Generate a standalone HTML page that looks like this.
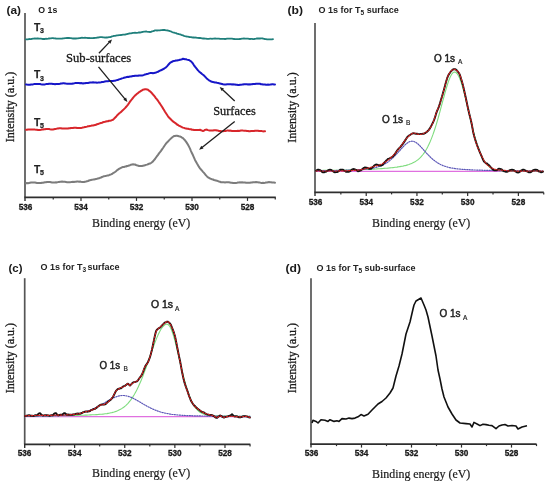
<!DOCTYPE html>
<html><head><meta charset="utf-8"><style>
html,body{margin:0;padding:0;background:#fff;}
svg{display:block;will-change:transform;}
</style></head><body>
<svg width="550" height="485" viewBox="0 0 550 485">
<rect width="550" height="485" fill="#fff"/>
<line x1="25.0" y1="13" x2="25.0" y2="197.4" stroke="#555" stroke-width="1.7"/>
<line x1="25.0" y1="197.4" x2="25.0" y2="200.9" stroke="#2e2e2e" stroke-width="1.4"/>
<line x1="24.3" y1="197.4" x2="275.8" y2="197.4" stroke="#2e2e2e" stroke-width="1.6"/>
<line x1="81.00" y1="197.4" x2="81.00" y2="200.9" stroke="#2e2e2e" stroke-width="1.2"/>
<line x1="136.50" y1="197.4" x2="136.50" y2="200.9" stroke="#2e2e2e" stroke-width="1.2"/>
<line x1="192.00" y1="197.4" x2="192.00" y2="200.9" stroke="#2e2e2e" stroke-width="1.2"/>
<line x1="247.50" y1="197.4" x2="247.50" y2="200.9" stroke="#2e2e2e" stroke-width="1.2"/>
<line x1="53.25" y1="197.4" x2="53.25" y2="199.4" stroke="#2e2e2e" stroke-width="1.2"/>
<line x1="108.75" y1="197.4" x2="108.75" y2="199.4" stroke="#2e2e2e" stroke-width="1.2"/>
<line x1="164.25" y1="197.4" x2="164.25" y2="199.4" stroke="#2e2e2e" stroke-width="1.2"/>
<line x1="219.75" y1="197.4" x2="219.75" y2="199.4" stroke="#2e2e2e" stroke-width="1.2"/>
<line x1="275.25" y1="197.4" x2="275.25" y2="199.4" stroke="#2e2e2e" stroke-width="1.2"/>
<text x="25.50" y="209.8" font-family='"Liberation Sans", sans-serif' font-weight="bold" font-size="8.2" text-anchor="middle" fill="#1a1a1a" stroke="#1a1a1a" stroke-width="0.3">536</text>
<text x="81.00" y="209.8" font-family='"Liberation Sans", sans-serif' font-weight="bold" font-size="8.2" text-anchor="middle" fill="#1a1a1a" stroke="#1a1a1a" stroke-width="0.3">534</text>
<text x="136.50" y="209.8" font-family='"Liberation Sans", sans-serif' font-weight="bold" font-size="8.2" text-anchor="middle" fill="#1a1a1a" stroke="#1a1a1a" stroke-width="0.3">532</text>
<text x="192.00" y="209.8" font-family='"Liberation Sans", sans-serif' font-weight="bold" font-size="8.2" text-anchor="middle" fill="#1a1a1a" stroke="#1a1a1a" stroke-width="0.3">530</text>
<text x="247.50" y="209.8" font-family='"Liberation Sans", sans-serif' font-weight="bold" font-size="8.2" text-anchor="middle" fill="#1a1a1a" stroke="#1a1a1a" stroke-width="0.3">528</text>
<text x="6.5" y="13.6" font-family='"Liberation Sans", sans-serif' font-weight="bold" font-size="11" fill="#1a1a1a" text-anchor="start" textLength="14.5" lengthAdjust="spacingAndGlyphs" >(a)</text>
<text x="38.3" y="12.6" font-family='"Liberation Sans", sans-serif' font-weight="bold" font-size="9" fill="#1a1a1a" text-anchor="start" textLength="19" lengthAdjust="spacingAndGlyphs" >O 1s</text>
<polyline points="26.0,39.4 27.0,39.3 28.0,39.3 29.0,39.0 30.0,39.1 31.0,39.0 32.0,38.8 33.0,38.6 34.0,38.7 35.0,38.4 36.0,38.6 37.0,38.5 38.0,38.5 39.0,38.6 40.0,38.7 41.0,38.7 42.0,38.8 43.0,39.0 44.0,39.0 45.0,39.0 46.0,38.7 47.0,38.8 48.0,38.7 49.0,38.5 50.0,38.3 51.0,38.3 52.0,38.2 53.0,38.1 54.0,38.4 55.0,38.3 56.0,38.5 57.0,38.6 58.0,38.7 59.0,38.7 60.0,38.7 61.0,38.6 62.0,38.7 63.0,38.4 64.0,38.3 65.0,38.2 66.0,38.2 67.0,38.0 68.0,38.0 69.0,38.0 70.0,38.2 71.0,38.2 72.0,38.4 73.0,38.5 74.0,38.5 75.0,38.4 76.0,38.5 77.0,38.4 78.0,38.3 79.0,38.2 80.0,38.1 81.0,37.8 82.0,37.7 83.0,37.8 84.0,37.8 85.0,37.7 86.0,37.9 87.0,37.8 88.0,38.1 89.0,38.0 90.0,38.1 91.0,38.1 92.0,38.1 93.0,38.2 94.0,38.0 95.0,37.8 96.0,37.8 97.0,37.6 98.0,37.5 99.0,37.4 100.0,37.2 101.0,37.2 102.0,37.2 103.0,37.4 104.0,37.3 105.0,37.6 106.0,37.5 107.0,37.5 108.0,37.4 109.0,37.2 110.0,37.2 111.0,36.8 112.0,36.4 113.0,36.2 114.0,35.9 115.0,35.8 116.0,35.6 117.0,35.4 118.0,35.3 119.0,35.2 120.0,35.1 121.0,35.0 122.0,34.9 123.0,34.7 124.0,34.6 125.0,34.5 126.0,34.3 127.0,34.0 128.0,33.9 129.0,33.5 130.0,33.4 131.0,33.3 132.0,33.1 133.0,32.9 134.0,32.8 135.0,32.7 136.0,32.9 137.0,32.8 138.0,32.7 139.0,32.5 140.0,32.5 141.0,32.4 142.0,32.0 143.0,31.8 144.0,31.7 145.0,31.6 146.0,31.5 147.0,31.7 148.0,31.8 149.0,31.8 150.0,32.0 151.0,31.8 152.0,31.4 153.0,31.2 154.0,30.8 155.0,30.4 156.0,30.3 157.0,30.5 158.0,30.3 159.0,30.4 160.0,30.3 161.0,30.2 162.0,30.2 163.0,30.0 164.0,30.0 165.0,30.0 166.0,30.3 167.0,30.3 168.0,30.5 169.0,30.8 170.0,31.2 171.0,31.4 172.0,32.0 173.0,32.4 174.0,32.6 175.0,32.9 176.0,33.1 177.0,33.6 178.0,33.8 179.0,34.2 180.0,34.4 181.0,34.7 182.0,35.2 183.0,35.4 184.0,35.8 185.0,36.1 186.0,36.3 187.0,36.6 188.0,36.7 189.0,37.0 190.0,37.2 191.0,37.1 192.0,37.4 193.0,37.5 194.0,37.5 195.0,37.6 196.0,37.5 197.0,37.8 198.0,37.9 199.0,38.0 200.0,38.0 201.0,38.2 202.0,38.4 203.0,38.5 204.0,38.5 205.0,38.7 206.0,38.6 207.0,38.8 208.0,38.8 209.0,38.8 210.0,38.7 211.0,38.7 212.0,38.8 213.0,38.7 214.0,38.6 215.0,38.5 216.0,38.7 217.0,38.6 218.0,38.6 219.0,38.6 220.0,38.8 221.0,38.9 222.0,38.8 223.0,38.9 224.0,38.9 225.0,39.0 226.0,38.8 227.0,38.6 228.0,38.7 229.0,38.6 230.0,38.7 231.0,38.7 232.0,38.7 233.0,38.9 234.0,39.0 235.0,39.2 236.0,39.1 237.0,39.1 238.0,39.2 239.0,39.2 240.0,39.0 241.0,38.9 242.0,38.7 243.0,38.7 244.0,38.5 245.0,38.6 246.0,38.6 247.0,38.6 248.0,38.7 249.0,38.9 250.0,39.0 251.0,38.9 252.0,38.9 253.0,39.1 254.0,39.0 255.0,38.8 256.0,38.7 257.0,38.5 258.0,38.5 259.0,38.5 260.0,38.5 261.0,38.4 262.0,38.4 263.0,38.5 264.0,38.8 265.0,39.0 266.0,39.1 267.0,39.3 268.0,39.3 269.0,39.3 270.0,39.3 271.0,39.4 272.0,39.3 273.0,39.1" fill="none" stroke="#1f7f7b" stroke-width="1.8" stroke-linejoin="round" stroke-linecap="round" />
<polyline points="26.0,84.4 27.0,84.6 28.0,84.7 29.0,84.7 30.0,84.7 31.0,84.5 32.0,84.5 33.0,84.4 34.0,84.1 35.0,83.9 36.0,84.0 37.0,83.9 38.0,84.0 39.0,84.1 40.0,84.1 41.0,84.3 42.0,84.4 43.0,84.5 44.0,84.5 45.0,84.4 46.0,84.1 47.0,84.0 48.0,83.9 49.0,83.7 50.0,83.7 51.0,83.7 52.0,83.8 53.0,84.1 54.0,84.1 55.0,84.2 56.0,84.0 57.0,84.1 58.0,84.0 59.0,83.9 60.0,83.8 61.0,83.5 62.0,83.4 63.0,83.3 64.0,83.3 65.0,83.4 66.0,83.6 67.0,83.7 68.0,83.7 69.0,83.8 70.0,83.7 71.0,83.7 72.0,83.8 73.0,83.5 74.0,83.4 75.0,83.1 76.0,83.0 77.0,82.9 78.0,82.9 79.0,83.0 80.0,83.2 81.0,83.1 82.0,83.3 83.0,83.5 84.0,83.2 85.0,83.3 86.0,83.1 87.0,83.0 88.0,83.0 89.0,82.8 90.0,82.6 91.0,82.4 92.0,82.4 93.0,82.3 94.0,82.5 95.0,82.5 96.0,82.5 97.0,82.7 98.0,82.6 99.0,82.4 100.0,82.4 101.0,82.3 102.0,82.1 103.0,82.0 104.0,81.8 105.0,81.4 106.0,81.3 107.0,81.3 108.0,81.2 109.0,81.1 110.0,81.0 111.0,81.1 112.0,81.1 113.0,80.9 114.0,80.8 115.0,80.7 116.0,80.4 117.0,80.1 118.0,79.9 119.0,79.4 120.0,79.1 121.0,78.8 122.0,78.4 123.0,78.1 124.0,77.7 125.0,77.5 126.0,77.3 127.0,76.9 128.0,76.8 129.0,76.9 130.0,76.5 131.0,76.5 132.0,76.3 133.0,76.1 134.0,76.0 135.0,75.8 136.0,75.7 137.0,75.7 138.0,75.8 139.0,75.5 140.0,75.4 141.0,75.5 142.0,75.4 143.0,75.2 144.0,74.9 145.0,74.5 146.0,74.3 147.0,73.9 148.0,73.7 149.0,73.4 150.0,73.1 151.0,73.1 152.0,73.0 153.0,73.2 154.0,73.1 155.0,72.8 156.0,72.5 157.0,72.1 158.0,71.8 159.0,71.2 160.0,70.6 161.0,70.2 162.0,69.8 163.0,69.2 164.0,68.8 165.0,68.0 166.0,67.4 167.0,66.4 168.0,65.2 169.0,64.0 170.0,62.9 171.0,62.2 172.0,61.8 173.0,61.2 174.0,60.9 175.0,60.8 176.0,60.5 177.0,60.4 178.0,60.2 179.0,60.0 180.0,59.7 181.0,59.5 182.0,59.2 183.0,58.8 184.0,59.0 185.0,59.2 186.0,59.2 187.0,59.6 188.0,59.9 189.0,60.0 190.0,60.7 191.0,61.4 192.0,62.4 193.0,63.7 194.0,65.3 195.0,66.7 196.0,67.9 197.0,69.1 198.0,70.4 199.0,71.4 200.0,72.3 201.0,73.1 202.0,74.0 203.0,74.7 204.0,75.5 205.0,76.6 206.0,77.7 207.0,78.8 208.0,79.5 209.0,80.3 210.0,80.8 211.0,81.5 212.0,81.8 213.0,82.1 214.0,82.2 215.0,82.4 216.0,82.6 217.0,82.8 218.0,82.9 219.0,83.2 220.0,83.6 221.0,83.8 222.0,84.0 223.0,84.3 224.0,84.4 225.0,84.5 226.0,84.4 227.0,84.3 228.0,84.3 229.0,84.2 230.0,84.2 231.0,84.2 232.0,84.4 233.0,84.3 234.0,84.6 235.0,84.5 236.0,84.7 237.0,84.8 238.0,85.0 239.0,85.0 240.0,84.8 241.0,84.7 242.0,84.6 243.0,84.4 244.0,84.2 245.0,84.2 246.0,84.2 247.0,84.2 248.0,84.4 249.0,84.3 250.0,84.5 251.0,84.3 252.0,84.2 253.0,84.0 254.0,83.9 255.0,83.9 256.0,83.7 257.0,83.7 258.0,83.8 259.0,83.7 260.0,83.8 261.0,84.2 262.0,84.2 263.0,84.4 264.0,84.5 265.0,84.6 266.0,84.8 267.0,84.7 268.0,84.6 269.0,84.7 270.0,84.6 271.0,84.4 272.0,84.3 273.0,84.3 274.0,84.4 275.0,84.4" fill="none" stroke="#1616c8" stroke-width="2.0" stroke-linejoin="round" stroke-linecap="round" />
<polyline points="26.0,129.8 27.0,129.8 28.0,129.6 29.0,129.5 30.0,129.6 31.0,129.5 32.0,129.4 33.0,129.4 34.0,129.4 35.0,129.6 36.0,129.7 37.0,129.7 38.0,129.9 39.0,130.0 40.0,129.9 41.0,129.8 42.0,129.6 43.0,129.5 44.0,129.2 45.0,129.3 46.0,129.1 47.0,129.0 48.0,129.0 49.0,129.1 50.0,129.3 51.0,129.4 52.0,129.4 53.0,129.4 54.0,129.2 55.0,129.0 56.0,128.9 57.0,128.6 58.0,128.6 59.0,128.3 60.0,128.3 61.0,128.3 62.0,128.5 63.0,128.5 64.0,128.5 65.0,128.6 66.0,128.6 67.0,128.5 68.0,128.5 69.0,128.3 70.0,128.3 71.0,128.0 72.0,127.9 73.0,127.9 74.0,127.7 75.0,127.7 76.0,127.8 77.0,128.0 78.0,127.9 79.0,127.9 80.0,128.1 81.0,127.9 82.0,127.7 83.0,127.4 84.0,127.3 85.0,127.1 86.0,126.9 87.0,126.6 88.0,126.2 89.0,126.2 90.0,125.9 91.0,125.8 92.0,125.6 93.0,125.4 94.0,125.2 95.0,125.1 96.0,124.7 97.0,124.3 98.0,124.1 99.0,123.6 100.0,123.3 101.0,122.9 102.0,122.7 103.0,122.3 104.0,121.9 105.0,121.8 106.0,121.5 107.0,121.3 108.0,121.2 109.0,120.8 110.0,120.7 111.0,120.5 112.0,120.1 113.0,119.7 114.0,118.8 115.0,117.8 116.0,116.8 117.0,115.5 118.0,114.6 119.0,113.5 120.0,112.8 121.0,111.9 122.0,111.0 123.0,110.1 124.0,109.1 125.0,108.1 126.0,107.0 127.0,105.9 128.0,104.6 129.0,103.2 130.0,101.6 131.0,100.3 132.0,99.2 133.0,97.8 134.0,96.7 135.0,95.6 136.0,94.7 137.0,93.8 138.0,93.1 139.0,92.2 140.0,91.7 141.0,90.9 142.0,90.3 143.0,89.7 144.0,89.4 145.0,89.2 146.0,89.3 147.0,89.4 148.0,89.8 149.0,90.7 150.0,91.3 151.0,92.3 152.0,93.3 153.0,94.5 154.0,95.6 155.0,96.9 156.0,98.3 157.0,99.4 158.0,100.8 159.0,102.3 160.0,103.7 161.0,105.2 162.0,106.8 163.0,108.4 164.0,110.1 165.0,111.8 166.0,113.3 167.0,114.8 168.0,116.3 169.0,117.5 170.0,118.5 171.0,119.5 172.0,120.5 173.0,121.4 174.0,122.2 175.0,122.8 176.0,123.6 177.0,124.5 178.0,125.0 179.0,125.8 180.0,126.1 181.0,126.7 182.0,127.2 183.0,127.6 184.0,127.9 185.0,128.2 186.0,128.4 187.0,128.7 188.0,128.7 189.0,129.0 190.0,129.2 191.0,129.3 192.0,129.7 193.0,129.7 194.0,129.9 195.0,129.9 196.0,130.1 197.0,130.0 198.0,130.0 199.0,129.9 200.0,129.8 201.0,130.2 202.0,130.6 203.0,131.0 204.0,130.6 205.0,129.9 206.0,129.6 207.0,129.7 208.0,130.1 209.0,130.4 210.0,130.5 211.0,130.5 212.0,130.4 213.0,130.4 214.0,130.2 215.0,130.2 216.0,130.2 217.0,130.4 218.0,130.6 219.0,131.0 220.0,131.0 221.0,131.3 222.0,131.3 223.0,131.2 224.0,131.1 225.0,131.0 226.0,130.9 227.0,130.6 228.0,130.5 229.0,130.7 230.0,130.6 231.0,130.7 232.0,130.9 233.0,130.9 234.0,131.0 235.0,131.1 236.0,131.0 237.0,131.0 238.0,130.8 239.0,130.9 240.0,130.7 241.0,130.5 242.0,130.4 243.0,130.6 244.0,130.7 245.0,130.8 246.0,130.8 247.0,131.1 248.0,131.1 249.0,131.3 250.0,131.2 251.0,131.1 252.0,131.1 253.0,130.9 254.0,130.9 255.0,130.7 256.0,130.7 257.0,130.8 258.0,130.7 259.0,130.9 260.0,131.1 261.0,131.1 262.0,131.1 263.0,131.4 264.0,131.3 265.0,131.2" fill="none" stroke="#d8262b" stroke-width="2.0" stroke-linejoin="round" stroke-linecap="round" />
<polyline points="26.0,183.3 27.0,183.1 28.0,183.2 29.0,183.0 30.0,182.8 31.0,182.6 32.0,182.5 33.0,182.6 34.0,182.6 35.0,182.5 36.0,182.7 37.0,182.9 38.0,182.9 39.0,182.9 40.0,182.9 41.0,183.0 42.0,182.7 43.0,182.7 44.0,182.5 45.0,182.3 46.0,182.2 47.0,182.0 48.0,182.1 49.0,182.0 50.0,182.1 51.0,182.3 52.0,182.5 53.0,182.4 54.0,182.5 55.0,182.4 56.0,182.3 57.0,182.4 58.0,182.1 59.0,182.1 60.0,181.8 61.0,181.7 62.0,181.6 63.0,181.8 64.0,181.8 65.0,181.8 66.0,182.1 67.0,182.2 68.0,182.3 69.0,182.2 70.0,182.2 71.0,182.1 72.0,181.9 73.0,181.8 74.0,181.9 75.0,181.7 76.0,181.8 77.0,181.6 78.0,181.6 79.0,181.7 80.0,181.6 81.0,181.8 82.0,181.9 83.0,182.0 84.0,182.0 85.0,181.7 86.0,181.5 87.0,181.2 88.0,181.0 89.0,180.5 90.0,180.2 91.0,179.9 92.0,179.7 93.0,179.6 94.0,179.4 95.0,179.2 96.0,179.0 97.0,178.8 98.0,178.4 99.0,178.3 100.0,177.8 101.0,177.5 102.0,177.0 103.0,176.6 104.0,176.2 105.0,176.1 106.0,175.9 107.0,175.6 108.0,175.4 109.0,175.2 110.0,174.7 111.0,174.4 112.0,174.0 113.0,173.2 114.0,172.7 115.0,172.0 116.0,171.2 117.0,170.3 118.0,169.6 119.0,168.9 120.0,168.3 121.0,167.8 122.0,167.3 123.0,167.1 124.0,167.0 125.0,166.6 126.0,166.5 127.0,166.0 128.0,165.9 129.0,165.5 130.0,165.2 131.0,164.7 132.0,164.6 133.0,164.3 134.0,164.4 135.0,164.5 136.0,165.0 137.0,165.4 138.0,165.6 139.0,166.0 140.0,166.0 141.0,166.0 142.0,166.0 143.0,165.8 144.0,165.6 145.0,165.2 146.0,164.9 147.0,164.6 148.0,164.2 149.0,163.8 150.0,163.6 151.0,163.0 152.0,162.2 153.0,161.4 154.0,160.2 155.0,159.0 156.0,157.5 157.0,156.2 158.0,154.9 159.0,153.4 160.0,152.2 161.0,150.9 162.0,149.4 163.0,148.0 164.0,146.5 165.0,145.0 166.0,143.7 167.0,142.4 168.0,141.5 169.0,140.4 170.0,139.4 171.0,138.4 172.0,137.5 173.0,136.8 174.0,136.1 175.0,135.9 176.0,135.8 177.0,135.8 178.0,136.0 179.0,136.3 180.0,136.5 181.0,136.9 182.0,137.6 183.0,138.2 184.0,139.3 185.0,140.3 186.0,141.6 187.0,143.1 188.0,144.7 189.0,146.6 190.0,148.6 191.0,151.1 192.0,153.3 193.0,155.3 194.0,157.6 195.0,159.9 196.0,161.7 197.0,163.5 198.0,165.2 199.0,166.9 200.0,168.3 201.0,169.5 202.0,170.6 203.0,171.8 204.0,172.9 205.0,174.1 206.0,175.4 207.0,176.4 208.0,177.3 209.0,177.9 210.0,178.5 211.0,178.9 212.0,179.3 213.0,179.5 214.0,180.0 215.0,180.2 216.0,180.6 217.0,180.8 218.0,181.1 219.0,181.5 220.0,181.8 221.0,182.2 222.0,182.2 223.0,182.3 224.0,182.3 225.0,182.4 226.0,182.3 227.0,182.2 228.0,182.3 229.0,182.2 230.0,182.6 231.0,182.7 232.0,182.8 233.0,182.9 234.0,183.0 235.0,182.9 236.0,182.9 237.0,182.8 238.0,182.6 239.0,182.4 240.0,182.3 241.0,182.4 242.0,182.2 243.0,182.4 244.0,182.5 245.0,182.5 246.0,182.7 247.0,182.8 248.0,182.8 249.0,182.7 250.0,182.7 251.0,182.5 252.0,182.5 253.0,182.3 254.0,182.2 255.0,182.2 256.0,182.1 257.0,182.3 258.0,182.3 259.0,182.6 260.0,182.6 261.0,182.9 262.0,182.9 263.0,182.8 264.0,182.9 265.0,182.8 266.0,182.6 267.0,182.4 268.0,182.2 269.0,182.1 270.0,182.2 271.0,182.2 272.0,182.4 273.0,182.5 274.0,182.6 275.0,182.7" fill="none" stroke="#7c7c7c" stroke-width="2.0" stroke-linejoin="round" stroke-linecap="round" />
<text x="34" y="30.7" font-family='"Liberation Sans", sans-serif' font-weight="bold" font-size="10.3" fill="#222" text-anchor="start" stroke="#222" stroke-width="0.25" >T</text>
<text x="39.9" y="33.4" font-family='"Liberation Sans", sans-serif' font-weight="bold" font-size="7" fill="#222" text-anchor="start" stroke="#222" stroke-width="0.25" >3</text>
<text x="34" y="78.0" font-family='"Liberation Sans", sans-serif' font-weight="bold" font-size="10.3" fill="#222" text-anchor="start" stroke="#222" stroke-width="0.25" >T</text>
<text x="39.9" y="80.7" font-family='"Liberation Sans", sans-serif' font-weight="bold" font-size="7" fill="#222" text-anchor="start" stroke="#222" stroke-width="0.25" >3</text>
<text x="34" y="125.7" font-family='"Liberation Sans", sans-serif' font-weight="bold" font-size="10.3" fill="#222" text-anchor="start" stroke="#222" stroke-width="0.25" >T</text>
<text x="39.9" y="128.4" font-family='"Liberation Sans", sans-serif' font-weight="bold" font-size="7" fill="#222" text-anchor="start" stroke="#222" stroke-width="0.25" >5</text>
<text x="34" y="172.7" font-family='"Liberation Sans", sans-serif' font-weight="bold" font-size="10.3" fill="#222" text-anchor="start" stroke="#222" stroke-width="0.25" >T</text>
<text x="39.9" y="175.39999999999998" font-family='"Liberation Sans", sans-serif' font-weight="bold" font-size="7" fill="#222" text-anchor="start" stroke="#222" stroke-width="0.25" >5</text>
<text x="66" y="61.6" font-family='"Liberation Serif", serif' font-weight="normal" font-size="12.6" fill="#1a1a1a" text-anchor="start" textLength="65.2" lengthAdjust="spacingAndGlyphs" stroke="#1a1a1a" stroke-width="0.3" >Sub-surfaces</text>
<text x="213.2" y="115.2" font-family='"Liberation Serif", serif' font-weight="normal" font-size="12.6" fill="#1a1a1a" text-anchor="start" textLength="42.5" lengthAdjust="spacingAndGlyphs" stroke="#1a1a1a" stroke-width="0.3" >Surfaces</text>
<line x1="98.9" y1="53.2" x2="109.45" y2="42.08" stroke="#1e1e1e" stroke-width="1.3"/>
<polygon points="112.00,39.40 110.39,43.66 107.83,41.23" fill="#1e1e1e"/>
<line x1="98.5" y1="66.8" x2="125.05" y2="99.04" stroke="#1e1e1e" stroke-width="1.3"/>
<polygon points="127.40,101.90 123.37,99.78 126.09,97.54" fill="#1e1e1e"/>
<line x1="234.7" y1="100.9" x2="222.40" y2="89.42" stroke="#1e1e1e" stroke-width="1.3"/>
<polygon points="219.70,86.90 223.97,88.48 221.57,91.06" fill="#1e1e1e"/>
<line x1="234.7" y1="121.6" x2="202.00" y2="147.50" stroke="#1e1e1e" stroke-width="1.3"/>
<polygon points="199.10,149.80 201.30,145.81 203.49,148.57" fill="#1e1e1e"/>
<text transform="translate(14.2,107) rotate(-90)" x="0" y="0" font-family='"Liberation Serif", serif' font-size="12" fill="#1a1a1a" stroke="#1a1a1a" stroke-width="0.3" text-anchor="middle">Intensity (a.u.)</text>
<text x="92" y="226.8" font-family='"Liberation Serif", serif' font-size="12" fill="#1a1a1a" stroke="#1a1a1a" stroke-width="0.2" textLength="98.3" lengthAdjust="spacingAndGlyphs">Binding energy (eV)</text>
<line x1="315.0" y1="23" x2="315.0" y2="192.4" stroke="#555" stroke-width="1.7"/>
<line x1="315.0" y1="192.4" x2="315.0" y2="195.9" stroke="#2e2e2e" stroke-width="1.4"/>
<line x1="314.3" y1="192.4" x2="543.8" y2="192.4" stroke="#2e2e2e" stroke-width="1.6"/>
<line x1="366.22" y1="192.4" x2="366.22" y2="195.9" stroke="#2e2e2e" stroke-width="1.2"/>
<line x1="416.94" y1="192.4" x2="416.94" y2="195.9" stroke="#2e2e2e" stroke-width="1.2"/>
<line x1="467.66" y1="192.4" x2="467.66" y2="195.9" stroke="#2e2e2e" stroke-width="1.2"/>
<line x1="518.38" y1="192.4" x2="518.38" y2="195.9" stroke="#2e2e2e" stroke-width="1.2"/>
<line x1="340.86" y1="192.4" x2="340.86" y2="194.4" stroke="#2e2e2e" stroke-width="1.2"/>
<line x1="391.58" y1="192.4" x2="391.58" y2="194.4" stroke="#2e2e2e" stroke-width="1.2"/>
<line x1="442.30" y1="192.4" x2="442.30" y2="194.4" stroke="#2e2e2e" stroke-width="1.2"/>
<line x1="493.02" y1="192.4" x2="493.02" y2="194.4" stroke="#2e2e2e" stroke-width="1.2"/>
<line x1="543.74" y1="192.4" x2="543.74" y2="194.4" stroke="#2e2e2e" stroke-width="1.2"/>
<text x="315.50" y="204.6" font-family='"Liberation Sans", sans-serif' font-weight="bold" font-size="8.2" text-anchor="middle" fill="#1a1a1a" stroke="#1a1a1a" stroke-width="0.3">536</text>
<text x="366.22" y="204.6" font-family='"Liberation Sans", sans-serif' font-weight="bold" font-size="8.2" text-anchor="middle" fill="#1a1a1a" stroke="#1a1a1a" stroke-width="0.3">534</text>
<text x="416.94" y="204.6" font-family='"Liberation Sans", sans-serif' font-weight="bold" font-size="8.2" text-anchor="middle" fill="#1a1a1a" stroke="#1a1a1a" stroke-width="0.3">532</text>
<text x="467.66" y="204.6" font-family='"Liberation Sans", sans-serif' font-weight="bold" font-size="8.2" text-anchor="middle" fill="#1a1a1a" stroke="#1a1a1a" stroke-width="0.3">530</text>
<text x="518.38" y="204.6" font-family='"Liberation Sans", sans-serif' font-weight="bold" font-size="8.2" text-anchor="middle" fill="#1a1a1a" stroke="#1a1a1a" stroke-width="0.3">528</text>
<text x="287.5" y="13.6" font-family='"Liberation Sans", sans-serif' font-weight="bold" font-size="11" fill="#1a1a1a" text-anchor="start" textLength="15.5" lengthAdjust="spacingAndGlyphs" >(b)</text>
<text transform="translate(296.2,107.5) rotate(-90)" x="0" y="0" font-family='"Liberation Serif", serif' font-size="12" fill="#1a1a1a" stroke="#1a1a1a" stroke-width="0.3" text-anchor="middle">Intensity (a.u.)</text>
<text x="372" y="226.7" font-family='"Liberation Serif", serif' font-size="12" fill="#1a1a1a" stroke="#1a1a1a" stroke-width="0.2" textLength="98.3" lengthAdjust="spacingAndGlyphs">Binding energy (eV)</text>
<text x="318.6" y="12.5" font-family='"Liberation Sans", sans-serif' font-weight="bold" font-size="9" fill="#222">O 1s for T<tspan font-size="6.5" dy="2.2">5</tspan><tspan dy="-2.2"> surface</tspan></text>
<line x1="316" y1="171.3" x2="543" y2="171.3" stroke="#e070e0" stroke-width="1.3"/>
<polyline points="316.0,170.5 317.0,170.5 318.0,170.5 319.0,170.5 320.0,170.5 321.0,170.5 322.0,170.5 323.0,170.4 324.0,170.4 325.0,170.4 326.0,170.4 327.0,170.4 328.0,170.4 329.0,170.4 330.0,170.3 331.0,170.3 332.0,170.3 333.0,170.3 334.0,170.3 335.0,170.3 336.0,170.2 337.0,170.2 338.0,170.2 339.0,170.2 340.0,170.2 341.0,170.1 342.0,170.1 343.0,170.1 344.0,170.1 345.0,170.1 346.0,170.0 347.0,170.0 348.0,170.0 349.0,170.0 350.0,169.9 351.0,169.9 352.0,169.9 353.0,169.9 354.0,169.8 355.0,169.8 356.0,169.8 357.0,169.8 358.0,169.7 359.0,169.7 360.0,169.7 361.0,169.6 362.0,169.6 363.0,169.6 364.0,169.5 365.0,169.5 366.0,169.4 367.0,169.4 368.0,169.4 369.0,169.3 370.0,169.3 371.0,169.2 372.0,169.2 373.0,169.1 374.0,169.1 375.0,169.0 376.0,169.0 377.0,168.9 378.0,168.8 379.0,168.8 380.0,168.7 381.0,168.6 382.0,168.6 383.0,168.5 384.0,168.4 385.0,168.3 386.0,168.3 387.0,168.2 388.0,168.1 389.0,168.0 390.0,167.9 391.0,167.8 392.0,167.7 393.0,167.6 394.0,167.5 395.0,167.3 396.0,167.2 397.0,167.1 398.0,166.9 399.0,166.8 400.0,166.6 401.0,166.4 402.0,166.3 403.0,166.1 404.0,165.8 405.0,165.6 406.0,165.4 407.0,165.1 408.0,164.8 409.0,164.5 410.0,164.1 411.0,163.7 412.0,163.3 413.0,162.8 414.0,162.3 415.0,161.8 416.0,161.1 417.0,160.4 418.0,159.7 419.0,158.8 420.0,157.9 421.0,156.8 422.0,155.7 423.0,154.5 424.0,153.1 425.0,151.6 426.0,150.0 427.0,148.2 428.0,146.3 429.0,144.2 430.0,142.0 431.0,139.6 432.0,137.1 433.0,134.4 434.0,131.5 435.0,128.5 436.0,125.3 437.0,122.0 438.0,118.6 439.0,115.0 440.0,111.4 441.0,107.7 442.0,103.9 443.0,100.2 444.0,96.5 445.0,92.8 446.0,89.3 447.0,86.0 448.0,82.8 449.0,80.0 450.0,77.5 451.0,75.5 452.0,73.8 453.0,72.7 454.0,72.1 455.0,72.0 456.0,72.5 457.0,73.5 458.0,74.9 459.0,76.8 460.0,79.2 461.0,81.9 462.0,85.1 463.0,88.5 464.0,92.2 465.0,96.2 466.0,100.3 467.0,104.5 468.0,108.8 469.0,113.1 470.0,117.4 471.0,121.6 472.0,125.8 473.0,129.8 474.0,133.7 475.0,137.3 476.0,140.8 477.0,144.1 478.0,147.1 479.0,149.9 480.0,152.5 481.0,154.8 482.0,157.0 483.0,158.9 484.0,160.6 485.0,162.1 486.0,163.5 487.0,164.7 488.0,165.7 489.0,166.6 490.0,167.4 491.0,168.0 492.0,168.6 493.0,169.1 494.0,169.5 495.0,169.8 496.0,170.1 497.0,170.3 498.0,170.5 499.0,170.7 500.0,170.8 501.0,170.9 502.0,171.0 503.0,171.1 504.0,171.1 505.0,171.2 506.0,171.2 507.0,171.2 508.0,171.2 509.0,171.3 510.0,171.3 511.0,171.3 512.0,171.3 513.0,171.3 514.0,171.3 515.0,171.3 516.0,171.3 517.0,171.3 518.0,171.3 519.0,171.3 520.0,171.3 521.0,171.3 522.0,171.3 523.0,171.3 524.0,171.3 525.0,171.3 526.0,171.3 527.0,171.3 528.0,171.3 529.0,171.3 530.0,171.3 531.0,171.3 532.0,171.3 533.0,171.3 534.0,171.3 535.0,171.3 536.0,171.3 537.0,171.3 538.0,171.3 539.0,171.3 540.0,171.3 541.0,171.3 542.0,171.3 543.0,171.3" fill="none" stroke="#7edc7e" stroke-width="1.1" stroke-linejoin="round" stroke-linecap="round" />
<polyline points="316.0,170.8 317.0,170.8 318.0,170.7 319.0,170.7 320.0,170.7 321.0,170.7 322.0,170.7 323.0,170.7 324.0,170.7 325.0,170.7 326.0,170.6 327.0,170.6 328.0,170.6 329.0,170.6 330.0,170.6 331.0,170.6 332.0,170.5 333.0,170.5 334.0,170.5 335.0,170.5 336.0,170.5 337.0,170.4 338.0,170.4 339.0,170.4 340.0,170.4 341.0,170.4 342.0,170.3 343.0,170.3 344.0,170.3 345.0,170.2 346.0,170.2 347.0,170.2 348.0,170.1 349.0,170.1 350.0,170.1 351.0,170.0 352.0,170.0 353.0,170.0 354.0,169.9 355.0,169.9 356.0,169.8 357.0,169.8 358.0,169.7 359.0,169.6 360.0,169.6 361.0,169.5 362.0,169.4 363.0,169.4 364.0,169.3 365.0,169.2 366.0,169.1 367.0,169.0 368.0,168.9 369.0,168.7 370.0,168.6 371.0,168.4 372.0,168.3 373.0,168.1 374.0,167.9 375.0,167.7 376.0,167.4 377.0,167.1 378.0,166.8 379.0,166.5 380.0,166.2 381.0,165.8 382.0,165.3 383.0,164.9 384.0,164.4 385.0,163.8 386.0,163.2 387.0,162.6 388.0,161.9 389.0,161.1 390.0,160.4 391.0,159.5 392.0,158.6 393.0,157.7 394.0,156.7 395.0,155.7 396.0,154.7 397.0,153.6 398.0,152.5 399.0,151.4 400.0,150.3 401.0,149.1 402.0,148.0 403.0,146.9 404.0,145.9 405.0,144.9 406.0,144.0 407.0,143.2 408.0,142.5 409.0,141.9 410.0,141.5 411.0,141.3 412.0,141.2 413.0,141.3 414.0,141.5 415.0,142.0 416.0,142.5 417.0,143.2 418.0,144.0 419.0,145.0 420.0,145.9 421.0,147.0 422.0,148.1 423.0,149.2 424.0,150.3 425.0,151.4 426.0,152.6 427.0,153.7 428.0,154.7 429.0,155.7 430.0,156.7 431.0,157.7 432.0,158.6 433.0,159.5 434.0,160.3 435.0,161.0 436.0,161.8 437.0,162.4 438.0,163.1 439.0,163.6 440.0,164.2 441.0,164.7 442.0,165.1 443.0,165.6 444.0,166.0 445.0,166.3 446.0,166.6 447.0,166.9 448.0,167.2 449.0,167.5 450.0,167.7 451.0,167.9 452.0,168.1 453.0,168.2 454.0,168.4 455.0,168.6 456.0,168.7 457.0,168.8 458.0,168.9 459.0,169.0 460.0,169.1 461.0,169.2 462.0,169.3 463.0,169.4 464.0,169.4 465.0,169.5 466.0,169.6 467.0,169.6 468.0,169.7 469.0,169.7 470.0,169.8 471.0,169.8 472.0,169.9 473.0,169.9 474.0,170.0 475.0,170.0 476.0,170.0 477.0,170.1 478.0,170.1 479.0,170.1 480.0,170.2 481.0,170.2 482.0,170.2 483.0,170.3 484.0,170.3 485.0,170.3 486.0,170.3 487.0,170.4 488.0,170.4 489.0,170.4 490.0,170.4 491.0,170.5 492.0,170.5 493.0,170.5 494.0,170.5 495.0,170.5 496.0,170.5 497.0,170.6 498.0,170.6 499.0,170.6 500.0,170.6 501.0,170.6 502.0,170.6 503.0,170.7 504.0,170.7 505.0,170.7 506.0,170.7 507.0,170.7 508.0,170.7 509.0,170.7 510.0,170.7 511.0,170.8 512.0,170.8 513.0,170.8 514.0,170.8 515.0,170.8 516.0,170.8 517.0,170.8 518.0,170.8 519.0,170.8 520.0,170.8 521.0,170.8 522.0,170.9 523.0,170.9 524.0,170.9 525.0,170.9 526.0,170.9 527.0,170.9 528.0,170.9 529.0,170.9 530.0,170.9 531.0,170.9 532.0,170.9 533.0,170.9 534.0,170.9 535.0,170.9 536.0,170.9 537.0,171.0 538.0,171.0 539.0,171.0 540.0,171.0 541.0,171.0 542.0,171.0 543.0,171.0" fill="none" stroke="#5d58b8" stroke-width="1.2" stroke-linejoin="round" stroke-linecap="round" stroke-dasharray="1.2 1.3"/>
<polyline points="316.0,170.8 317.0,170.1 318.0,169.6 319.0,169.8 320.0,170.1 321.0,170.7 322.0,171.8 323.0,172.3 324.0,172.4 325.0,171.9 326.0,171.7 327.0,171.0 328.0,170.4 329.0,170.0 330.0,169.7 331.0,169.9 332.0,170.5 333.0,171.3 334.0,172.0 335.0,172.2 336.0,172.1 337.0,172.1 338.0,171.6 339.0,171.0 340.0,169.8 341.0,169.8 342.0,169.8 343.0,169.7 344.0,170.6 345.0,170.9 346.0,171.8 347.0,171.8 348.0,171.8 349.0,171.8 350.0,171.2 351.0,170.4 352.0,169.6 353.0,169.1 354.0,169.0 355.0,169.5 356.0,169.8 357.0,170.5 358.0,171.2 359.0,171.1 360.0,170.7 361.0,170.3 362.0,169.4 363.0,168.6 364.0,167.9 365.0,167.5 366.0,167.7 367.0,167.8 368.0,168.2 369.0,168.8 370.0,168.7 371.0,168.7 372.0,167.8 373.0,167.0 374.0,165.8 375.0,165.0 376.0,164.5 377.0,164.6 378.0,165.1 379.0,165.3 380.0,165.5 381.0,165.6 382.0,165.1 383.0,164.4 384.0,163.0 385.0,162.0 386.0,160.8 387.0,159.9 388.0,158.9 389.0,158.6 390.0,158.2 391.0,157.7 392.0,157.0 393.0,156.5 394.0,155.2 395.0,153.9 396.0,152.3 397.0,150.7 398.0,149.5 399.0,148.4 400.0,147.3 401.0,146.1 402.0,144.9 403.0,143.6 404.0,142.1 405.0,140.6 406.0,139.1 407.0,137.5 408.0,136.4 409.0,135.5 410.0,135.0 411.0,134.3 412.0,133.7 413.0,133.3 414.0,133.4 415.0,133.6 416.0,133.8 417.0,133.8 418.0,134.0 419.0,134.1 420.0,134.1 421.0,134.0 422.0,133.9 423.0,133.8 424.0,133.7 425.0,133.2 426.0,132.5 427.0,131.7 428.0,130.8 429.0,129.6 430.0,128.1 431.0,126.4 432.0,124.4 433.0,122.5 434.0,120.1 435.0,117.4 436.0,113.9 437.0,111.2 438.0,108.9 439.0,106.4 440.0,103.2 441.0,99.8 442.0,96.5 443.0,92.9 444.0,89.4 445.0,85.7 446.0,82.0 447.0,78.7 448.0,76.0 449.0,74.1 450.0,72.7 451.0,71.3 452.0,70.3 453.0,69.5 454.0,69.1 455.0,69.2 456.0,69.7 457.0,70.5 458.0,71.8 459.0,73.2 460.0,75.2 461.0,78.6 462.0,81.7 463.0,85.4 464.0,89.7 465.0,94.3 466.0,98.8 467.0,103.6 468.0,108.3 469.0,112.8 470.0,116.8 471.0,120.7 472.0,125.5 473.0,131.2 474.0,135.5 475.0,139.0 476.0,142.1 477.0,145.0 478.0,147.7 479.0,150.2 480.0,152.7 481.0,154.9 482.0,157.2 483.0,159.6 484.0,161.5 485.0,162.4 486.0,163.4 487.0,163.5 488.0,164.4 489.0,165.2 490.0,166.3 491.0,167.5 492.0,168.7 493.0,169.5 494.0,170.2 495.0,170.4 496.0,170.3 497.0,170.1 498.0,169.1 499.0,168.7 500.0,168.9 501.0,169.2 502.0,169.6 503.0,170.7 504.0,171.2 505.0,171.4 506.0,171.9 507.0,171.8 508.0,171.4 509.0,170.7 510.0,170.2 511.0,169.9 512.0,169.7 513.0,169.9 514.0,170.2 515.0,171.1 516.0,171.8 517.0,172.4 518.0,172.5 519.0,172.3 520.0,171.6 521.0,170.7 522.0,170.2 523.0,169.7 524.0,169.8 525.0,170.3 526.0,170.9 527.0,171.3 528.0,171.8 529.0,172.4 530.0,172.4 531.0,172.0 532.0,171.2 533.0,170.3 534.0,169.9 535.0,169.8 536.0,169.8 537.0,169.9 538.0,170.6 539.0,171.5 540.0,171.6 541.0,172.3 542.0,172.1 543.0,171.7" fill="none" stroke="#111" stroke-width="1.9" stroke-linejoin="round" stroke-linecap="round" />
<polyline points="316.0,171.0 317.0,171.0 318.0,171.0 319.0,171.0 320.0,171.0 321.0,171.0 322.0,171.0 323.0,171.0 324.0,171.0 325.0,171.0 326.0,171.0 327.0,171.0 328.0,171.0 329.0,171.0 330.0,171.0 331.0,171.0 332.0,171.0 333.0,171.0 334.0,171.0 335.0,171.0 336.0,171.0 337.0,171.0 338.0,171.0 339.0,170.9 340.0,170.9 341.0,170.9 342.0,170.9 343.0,170.9 344.0,170.8 345.0,170.8 346.0,170.8 347.0,170.7 348.0,170.7 349.0,170.6 350.0,170.6 351.0,170.5 352.0,170.5 353.0,170.4 354.0,170.4 355.0,170.3 356.0,170.2 357.0,170.1 358.0,170.0 359.0,169.9 360.0,169.8 361.0,169.7 362.0,169.5 363.0,169.3 364.0,169.1 365.0,168.8 366.0,168.6 367.0,168.3 368.0,168.1 369.0,167.8 370.0,167.6 371.0,167.3 372.0,167.1 373.0,166.8 374.0,166.5 375.0,166.2 376.0,165.9 377.0,165.7 378.0,165.4 379.0,165.1 380.0,164.7 381.0,164.3 382.0,163.9 383.0,163.4 384.0,162.9 385.0,162.3 386.0,161.6 387.0,160.9 388.0,160.1 389.0,159.3 390.0,158.4 391.0,157.5 392.0,156.6 393.0,155.6 394.0,154.6 395.0,153.6 396.0,152.4 397.0,151.2 398.0,149.9 399.0,148.7 400.0,147.4 401.0,146.0 402.0,144.6 403.0,143.2 404.0,141.8 405.0,140.4 406.0,139.1 407.0,137.8 408.0,136.7 409.0,135.9 410.0,135.2 411.0,134.4 412.0,133.5 413.0,133.0 414.0,133.0 415.0,133.3 416.0,133.6 417.0,133.9 418.0,134.3 419.0,134.5 420.0,134.5 421.0,134.3 422.0,134.0 423.0,133.7 424.0,133.3 425.0,132.8 426.0,132.2 427.0,131.5 428.0,130.8 429.0,129.8 430.0,128.5 431.0,126.8 432.0,124.8 433.0,122.6 434.0,120.1 435.0,117.0 436.0,113.6 437.0,110.8 438.0,108.6 439.0,106.3 440.0,103.4 441.0,100.1 442.0,96.8 443.0,93.3 444.0,89.7 445.0,85.9 446.0,82.0 447.0,78.5 448.0,75.7 449.0,73.8 450.0,72.3 451.0,71.1 452.0,70.2 453.0,69.7 454.0,69.4 455.0,69.5 456.0,70.0 457.0,70.7 458.0,71.8 459.0,73.0 460.0,74.8 461.0,78.2 462.0,81.4 463.0,85.3 464.0,89.9 465.0,94.7 466.0,99.1 467.0,103.9 468.0,108.4 469.0,112.5 470.0,116.5 471.0,120.3 472.0,125.2 473.0,131.0 474.0,135.5 475.0,139.2 476.0,142.5 477.0,145.4 478.0,148.0 479.0,150.3 480.0,152.5 481.0,154.5 482.0,156.5 483.0,158.6 484.0,160.5 485.0,162.1 486.0,163.5 487.0,164.6 488.0,165.5 489.0,166.3 490.0,167.0 491.0,167.6 492.0,168.1 493.0,168.5 494.0,168.9 495.0,169.2 496.0,169.5 497.0,169.7 498.0,169.9 499.0,170.0 500.0,170.1 501.0,170.2 502.0,170.2 503.0,170.3 504.0,170.3 505.0,170.4 506.0,170.5 507.0,170.7 508.0,170.8 509.0,170.9 510.0,171.0 511.0,171.0 512.0,171.0 513.0,171.0 514.0,171.0 515.0,171.1 516.0,171.1 517.0,171.1 518.0,171.1 519.0,171.1 520.0,171.1 521.0,171.1 522.0,171.1 523.0,171.1 524.0,171.1 525.0,171.1 526.0,171.1 527.0,171.1 528.0,171.1 529.0,171.1 530.0,171.0 531.0,171.0 532.0,171.0 533.0,171.0 534.0,171.0 535.0,171.0 536.0,171.0 537.0,171.0 538.0,171.0 539.0,171.0 540.0,171.0 541.0,171.0 542.0,171.0 543.0,171.0" fill="none" stroke="#d42020" stroke-width="1.2" stroke-linejoin="round" stroke-linecap="round" stroke-dasharray="1.6 1.6"/>
<text x="382" y="123" font-family='"Liberation Sans", sans-serif' font-weight="normal" font-size="10" fill="#222" text-anchor="start" textLength="21" lengthAdjust="spacingAndGlyphs" stroke="#222" stroke-width="0.45" >O 1s</text>
<text x="406" y="125.3" font-family='"Liberation Sans", sans-serif' font-weight="normal" font-size="6.5" fill="#222" text-anchor="start" stroke="#222" stroke-width="0.2" >B</text>
<text x="434" y="62" font-family='"Liberation Sans", sans-serif' font-weight="normal" font-size="10" fill="#222" text-anchor="start" textLength="21" lengthAdjust="spacingAndGlyphs" stroke="#222" stroke-width="0.45" >O 1s</text>
<text x="458" y="64.3" font-family='"Liberation Sans", sans-serif' font-weight="normal" font-size="6.5" fill="#222" text-anchor="start" stroke="#222" stroke-width="0.2" >A</text>
<line x1="24.7" y1="278.2" x2="24.7" y2="444.4" stroke="#555" stroke-width="1.7"/>
<line x1="24.7" y1="444.4" x2="24.7" y2="447.9" stroke="#2e2e2e" stroke-width="1.4"/>
<line x1="24.0" y1="444.4" x2="250.4" y2="444.4" stroke="#2e2e2e" stroke-width="1.6"/>
<line x1="74.62" y1="444.4" x2="74.62" y2="447.9" stroke="#2e2e2e" stroke-width="1.2"/>
<line x1="124.74" y1="444.4" x2="124.74" y2="447.9" stroke="#2e2e2e" stroke-width="1.2"/>
<line x1="174.86" y1="444.4" x2="174.86" y2="447.9" stroke="#2e2e2e" stroke-width="1.2"/>
<line x1="224.98" y1="444.4" x2="224.98" y2="447.9" stroke="#2e2e2e" stroke-width="1.2"/>
<line x1="49.56" y1="444.4" x2="49.56" y2="446.4" stroke="#2e2e2e" stroke-width="1.2"/>
<line x1="99.68" y1="444.4" x2="99.68" y2="446.4" stroke="#2e2e2e" stroke-width="1.2"/>
<line x1="149.80" y1="444.4" x2="149.80" y2="446.4" stroke="#2e2e2e" stroke-width="1.2"/>
<line x1="199.92" y1="444.4" x2="199.92" y2="446.4" stroke="#2e2e2e" stroke-width="1.2"/>
<line x1="250.04" y1="444.4" x2="250.04" y2="446.4" stroke="#2e2e2e" stroke-width="1.2"/>
<text x="24.50" y="456.3" font-family='"Liberation Sans", sans-serif' font-weight="bold" font-size="8.2" text-anchor="middle" fill="#1a1a1a" stroke="#1a1a1a" stroke-width="0.3">536</text>
<text x="74.62" y="456.3" font-family='"Liberation Sans", sans-serif' font-weight="bold" font-size="8.2" text-anchor="middle" fill="#1a1a1a" stroke="#1a1a1a" stroke-width="0.3">534</text>
<text x="124.74" y="456.3" font-family='"Liberation Sans", sans-serif' font-weight="bold" font-size="8.2" text-anchor="middle" fill="#1a1a1a" stroke="#1a1a1a" stroke-width="0.3">532</text>
<text x="174.86" y="456.3" font-family='"Liberation Sans", sans-serif' font-weight="bold" font-size="8.2" text-anchor="middle" fill="#1a1a1a" stroke="#1a1a1a" stroke-width="0.3">530</text>
<text x="224.98" y="456.3" font-family='"Liberation Sans", sans-serif' font-weight="bold" font-size="8.2" text-anchor="middle" fill="#1a1a1a" stroke="#1a1a1a" stroke-width="0.3">528</text>
<text x="8.5" y="271.6" font-family='"Liberation Sans", sans-serif' font-weight="bold" font-size="11" fill="#1a1a1a" text-anchor="start" textLength="14" lengthAdjust="spacingAndGlyphs" >(c)</text>
<text transform="translate(14.1,358.2) rotate(-90)" x="0" y="0" font-family='"Liberation Serif", serif' font-size="12" fill="#1a1a1a" stroke="#1a1a1a" stroke-width="0.3" text-anchor="middle">Intensity (a.u.)</text>
<text x="92" y="477.1" font-family='"Liberation Serif", serif' font-size="12" fill="#1a1a1a" stroke="#1a1a1a" stroke-width="0.2" textLength="98.3" lengthAdjust="spacingAndGlyphs">Binding energy (eV)</text>
<text x="40.6" y="270" font-family='"Liberation Sans", sans-serif' font-weight="bold" font-size="9" fill="#222">O 1s for T<tspan font-size="6.5" dy="2.2">3</tspan><tspan dy="-2.2" dx="1.3">surface</tspan></text>
<line x1="25" y1="416.7" x2="250" y2="416.7" stroke="#e070e0" stroke-width="1.3"/>
<polyline points="25.0,416.2 26.0,416.2 27.0,416.1 28.0,416.1 29.0,416.1 30.0,416.1 31.0,416.1 32.0,416.1 33.0,416.1 34.0,416.1 35.0,416.1 36.0,416.1 37.0,416.1 38.0,416.0 39.0,416.0 40.0,416.0 41.0,416.0 42.0,416.0 43.0,416.0 44.0,416.0 45.0,416.0 46.0,416.0 47.0,415.9 48.0,415.9 49.0,415.9 50.0,415.9 51.0,415.9 52.0,415.9 53.0,415.9 54.0,415.9 55.0,415.8 56.0,415.8 57.0,415.8 58.0,415.8 59.0,415.8 60.0,415.8 61.0,415.7 62.0,415.7 63.0,415.7 64.0,415.7 65.0,415.7 66.0,415.7 67.0,415.6 68.0,415.6 69.0,415.6 70.0,415.6 71.0,415.5 72.0,415.5 73.0,415.5 74.0,415.5 75.0,415.4 76.0,415.4 77.0,415.4 78.0,415.4 79.0,415.3 80.0,415.3 81.0,415.3 82.0,415.2 83.0,415.2 84.0,415.2 85.0,415.1 86.0,415.1 87.0,415.1 88.0,415.0 89.0,415.0 90.0,414.9 91.0,414.9 92.0,414.8 93.0,414.8 94.0,414.7 95.0,414.7 96.0,414.6 97.0,414.6 98.0,414.5 99.0,414.4 100.0,414.3 101.0,414.3 102.0,414.2 103.0,414.1 104.0,414.0 105.0,413.8 106.0,413.7 107.0,413.6 108.0,413.4 109.0,413.2 110.0,413.0 111.0,412.8 112.0,412.6 113.0,412.3 114.0,412.1 115.0,411.7 116.0,411.4 117.0,411.0 118.0,410.6 119.0,410.1 120.0,409.6 121.0,409.0 122.0,408.4 123.0,407.7 124.0,407.0 125.0,406.2 126.0,405.3 127.0,404.3 128.0,403.3 129.0,402.1 130.0,400.9 131.0,399.6 132.0,398.1 133.0,396.6 134.0,395.0 135.0,393.3 136.0,391.4 137.0,389.5 138.0,387.4 139.0,385.3 140.0,383.1 141.0,380.7 142.0,378.3 143.0,375.7 144.0,373.1 145.0,370.4 146.0,367.7 147.0,364.9 148.0,362.1 149.0,359.2 150.0,356.4 151.0,353.5 152.0,350.6 153.0,347.8 154.0,345.1 155.0,342.4 156.0,339.9 157.0,337.4 158.0,335.1 159.0,333.0 160.0,331.0 161.0,329.3 162.0,327.8 163.0,326.5 164.0,325.5 165.0,324.8 166.0,324.3 167.0,324.2 168.0,324.5 169.0,325.4 170.0,326.8 171.0,328.8 172.0,331.3 173.0,334.2 174.0,337.5 175.0,341.1 176.0,345.0 177.0,349.1 178.0,353.3 179.0,357.6 180.0,362.0 181.0,366.2 182.0,370.4 183.0,374.5 184.0,378.5 185.0,382.2 186.0,385.8 187.0,389.1 188.0,392.2 189.0,395.0 190.0,397.6 191.0,400.0 192.0,402.1 193.0,404.0 194.0,405.7 195.0,407.2 196.0,408.5 197.0,409.6 198.0,410.6 199.0,411.5 200.0,412.2 201.0,412.8 202.0,413.4 203.0,413.8 204.0,414.2 205.0,414.5 206.0,414.7 207.0,415.0 208.0,415.1 209.0,415.3 210.0,415.4 211.0,415.5 212.0,415.6 213.0,415.7 214.0,415.8 215.0,415.8 216.0,415.9 217.0,415.9 218.0,415.9 219.0,416.0 220.0,416.0 221.0,416.0 222.0,416.1 223.0,416.1 224.0,416.1 225.0,416.1 226.0,416.1 227.0,416.2 228.0,416.2 229.0,416.2 230.0,416.2 231.0,416.2 232.0,416.2 233.0,416.2 234.0,416.3 235.0,416.3 236.0,416.3 237.0,416.3 238.0,416.3 239.0,416.3 240.0,416.3 241.0,416.3 242.0,416.3 243.0,416.4 244.0,416.4 245.0,416.4 246.0,416.4 247.0,416.4 248.0,416.4 249.0,416.4 250.0,416.4" fill="none" stroke="#7edc7e" stroke-width="1.1" stroke-linejoin="round" stroke-linecap="round" />
<polyline points="25.0,416.2 26.0,416.2 27.0,416.2 28.0,416.2 29.0,416.2 30.0,416.2 31.0,416.2 32.0,416.1 33.0,416.1 34.0,416.1 35.0,416.1 36.0,416.1 37.0,416.1 38.0,416.1 39.0,416.1 40.0,416.0 41.0,416.0 42.0,416.0 43.0,416.0 44.0,416.0 45.0,416.0 46.0,415.9 47.0,415.9 48.0,415.9 49.0,415.9 50.0,415.8 51.0,415.8 52.0,415.8 53.0,415.8 54.0,415.7 55.0,415.7 56.0,415.7 57.0,415.6 58.0,415.6 59.0,415.6 60.0,415.5 61.0,415.5 62.0,415.4 63.0,415.4 64.0,415.3 65.0,415.2 66.0,415.2 67.0,415.1 68.0,415.0 69.0,414.9 70.0,414.8 71.0,414.7 72.0,414.6 73.0,414.5 74.0,414.3 75.0,414.2 76.0,414.0 77.0,413.9 78.0,413.7 79.0,413.5 80.0,413.3 81.0,413.1 82.0,412.8 83.0,412.6 84.0,412.3 85.0,412.0 86.0,411.7 87.0,411.4 88.0,411.0 89.0,410.7 90.0,410.3 91.0,409.9 92.0,409.5 93.0,409.0 94.0,408.6 95.0,408.1 96.0,407.6 97.0,407.1 98.0,406.6 99.0,406.0 100.0,405.5 101.0,404.9 102.0,404.4 103.0,403.8 104.0,403.2 105.0,402.6 106.0,402.0 107.0,401.4 108.0,400.8 109.0,400.3 110.0,399.7 111.0,399.2 112.0,398.6 113.0,398.1 114.0,397.7 115.0,397.2 116.0,396.9 117.0,396.5 118.0,396.2 119.0,395.9 120.0,395.8 121.0,395.6 122.0,395.5 123.0,395.5 124.0,395.5 125.0,395.6 126.0,395.8 127.0,396.0 128.0,396.3 129.0,396.6 130.0,396.9 131.0,397.3 132.0,397.8 133.0,398.2 134.0,398.7 135.0,399.3 136.0,399.8 137.0,400.4 138.0,401.0 139.0,401.5 140.0,402.1 141.0,402.7 142.0,403.3 143.0,403.9 144.0,404.5 145.0,405.0 146.0,405.6 147.0,406.2 148.0,406.7 149.0,407.2 150.0,407.7 151.0,408.2 152.0,408.7 153.0,409.1 154.0,409.6 155.0,410.0 156.0,410.4 157.0,410.8 158.0,411.1 159.0,411.4 160.0,411.8 161.0,412.1 162.0,412.4 163.0,412.6 164.0,412.9 165.0,413.1 166.0,413.3 167.0,413.5 168.0,413.7 169.0,413.9 170.0,414.1 171.0,414.2 172.0,414.4 173.0,414.5 174.0,414.6 175.0,414.7 176.0,414.8 177.0,414.9 178.0,415.0 179.0,415.1 180.0,415.2 181.0,415.2 182.0,415.3 183.0,415.4 184.0,415.4 185.0,415.5 186.0,415.5 187.0,415.6 188.0,415.6 189.0,415.6 190.0,415.7 191.0,415.7 192.0,415.7 193.0,415.8 194.0,415.8 195.0,415.8 196.0,415.9 197.0,415.9 198.0,415.9 199.0,415.9 200.0,415.9 201.0,416.0 202.0,416.0 203.0,416.0 204.0,416.0 205.0,416.0 206.0,416.0 207.0,416.1 208.0,416.1 209.0,416.1 210.0,416.1 211.0,416.1 212.0,416.1 213.0,416.1 214.0,416.1 215.0,416.2 216.0,416.2 217.0,416.2 218.0,416.2 219.0,416.2 220.0,416.2 221.0,416.2 222.0,416.2 223.0,416.2 224.0,416.2 225.0,416.3 226.0,416.3 227.0,416.3 228.0,416.3 229.0,416.3 230.0,416.3 231.0,416.3 232.0,416.3 233.0,416.3 234.0,416.3 235.0,416.3 236.0,416.3 237.0,416.3 238.0,416.3 239.0,416.4 240.0,416.4 241.0,416.4 242.0,416.4 243.0,416.4 244.0,416.4 245.0,416.4 246.0,416.4 247.0,416.4 248.0,416.4 249.0,416.4 250.0,416.4" fill="none" stroke="#5d58b8" stroke-width="1.2" stroke-linejoin="round" stroke-linecap="round" stroke-dasharray="1.2 1.3"/>
<polyline points="25.0,416.1 26.0,415.8 27.0,415.7 28.0,415.4 29.0,415.2 30.0,415.5 31.0,415.8 32.0,415.7 33.0,416.0 34.0,415.9 35.0,415.3 36.0,415.3 37.0,415.4 38.0,414.3 39.0,413.4 40.0,413.2 41.0,414.3 42.0,415.2 43.0,415.6 44.0,415.4 45.0,415.3 46.0,415.2 47.0,415.3 48.0,415.4 49.0,415.7 50.0,415.7 51.0,415.3 52.0,415.1 53.0,415.2 54.0,413.9 55.0,413.2 56.0,413.2 57.0,414.4 58.0,415.2 59.0,415.2 60.0,414.8 61.0,414.8 62.0,414.8 63.0,414.1 64.0,413.1 65.0,413.2 66.0,414.1 67.0,414.9 68.0,414.5 69.0,414.7 70.0,414.8 71.0,414.7 72.0,414.9 73.0,414.5 74.0,414.5 75.0,414.2 76.0,413.8 77.0,413.7 78.0,413.5 79.0,413.8 80.0,413.8 81.0,413.4 82.0,413.0 83.0,412.2 84.0,412.0 85.0,411.7 86.0,411.4 87.0,411.7 88.0,411.5 89.0,411.4 90.0,411.0 91.0,410.1 92.0,409.8 93.0,409.3 94.0,409.0 95.0,408.9 96.0,408.1 97.0,407.4 98.0,406.5 99.0,405.8 100.0,405.1 101.0,404.6 102.0,404.4 103.0,404.5 104.0,404.6 105.0,404.4 106.0,403.8 107.0,402.6 108.0,401.7 109.0,400.9 110.0,400.2 111.0,399.4 112.0,398.2 113.0,397.0 114.0,394.9 115.0,392.8 116.0,390.9 117.0,389.8 118.0,389.0 119.0,388.8 120.0,388.3 121.0,388.2 122.0,387.4 123.0,386.6 124.0,386.1 125.0,385.8 126.0,385.0 127.0,384.2 128.0,383.7 129.0,384.7 130.0,385.5 131.0,384.6 132.0,383.4 133.0,382.6 134.0,382.1 135.0,382.0 136.0,381.7 137.0,381.3 138.0,380.3 139.0,378.7 140.0,377.3 141.0,376.1 142.0,374.4 143.0,372.1 144.0,369.4 145.0,366.8 146.0,365.0 147.0,363.7 148.0,362.0 149.0,359.7 150.0,357.0 151.0,353.4 152.0,349.5 153.0,344.7 154.0,339.9 155.0,335.3 156.0,331.2 157.0,329.6 158.0,328.7 159.0,328.1 160.0,327.6 161.0,326.6 162.0,325.3 163.0,324.3 164.0,323.3 165.0,322.5 166.0,322.3 167.0,321.6 168.0,321.7 169.0,322.6 170.0,323.4 171.0,325.1 172.0,327.5 173.0,330.1 174.0,332.9 175.0,336.3 176.0,340.9 177.0,346.2 178.0,351.2 179.0,356.1 180.0,360.8 181.0,366.0 182.0,371.8 183.0,376.6 184.0,380.9 185.0,384.1 186.0,387.2 187.0,389.8 188.0,392.6 189.0,395.8 190.0,398.2 191.0,400.8 192.0,402.5 193.0,404.0 194.0,405.4 195.0,406.1 196.0,407.4 197.0,408.1 198.0,409.1 199.0,409.8 200.0,410.6 201.0,411.3 202.0,411.8 203.0,412.3 204.0,412.5 205.0,413.3 206.0,413.9 207.0,414.4 208.0,414.6 209.0,414.8 210.0,414.9 211.0,414.9 212.0,415.1 213.0,415.6 214.0,416.3 215.0,417.1 216.0,417.7 217.0,417.9 218.0,417.1 219.0,416.2 220.0,415.4 221.0,415.8 222.0,416.7 223.0,417.1 224.0,417.6 225.0,417.2 226.0,416.8 227.0,416.6 228.0,416.3 229.0,416.0 230.0,415.7 231.0,415.1 232.0,414.2 233.0,415.2 234.0,416.1 235.0,416.5 236.0,416.2 237.0,416.5 238.0,416.9 239.0,417.3 240.0,417.2 241.0,417.2 242.0,416.9 243.0,416.3 244.0,416.3 245.0,416.2 246.0,416.3 247.0,416.6 248.0,416.9 249.0,417.4 250.0,417.6" fill="none" stroke="#111" stroke-width="1.9" stroke-linejoin="round" stroke-linecap="round" />
<polyline points="25.0,415.8 26.0,415.8 27.0,415.8 28.0,415.7 29.0,415.7 30.0,415.7 31.0,415.6 32.0,415.6 33.0,415.6 34.0,415.5 35.0,415.5 36.0,415.5 37.0,415.5 38.0,415.4 39.0,415.4 40.0,415.4 41.0,415.4 42.0,415.4 43.0,415.4 44.0,415.4 45.0,415.4 46.0,415.4 47.0,415.3 48.0,415.3 49.0,415.3 50.0,415.3 51.0,415.3 52.0,415.3 53.0,415.3 54.0,415.2 55.0,415.2 56.0,415.2 57.0,415.2 58.0,415.2 59.0,415.2 60.0,415.1 61.0,415.1 62.0,415.1 63.0,415.1 64.0,415.0 65.0,415.0 66.0,415.0 67.0,414.9 68.0,414.8 69.0,414.8 70.0,414.7 71.0,414.6 72.0,414.5 73.0,414.4 74.0,414.3 75.0,414.2 76.0,414.1 77.0,414.0 78.0,413.9 79.0,413.7 80.0,413.5 81.0,413.2 82.0,412.9 83.0,412.5 84.0,412.1 85.0,411.8 86.0,411.6 87.0,411.4 88.0,411.2 89.0,411.0 90.0,410.7 91.0,410.4 92.0,410.0 93.0,409.6 94.0,409.1 95.0,408.6 96.0,408.0 97.0,407.3 98.0,406.5 99.0,405.9 100.0,405.3 101.0,404.9 102.0,404.7 103.0,404.6 104.0,404.4 105.0,404.0 106.0,403.5 107.0,402.8 108.0,402.1 109.0,401.3 110.0,400.4 111.0,399.3 112.0,398.0 113.0,396.5 114.0,394.6 115.0,392.6 116.0,391.0 117.0,390.0 118.0,389.3 119.0,388.7 120.0,388.2 121.0,387.7 122.0,387.3 123.0,386.9 124.0,386.5 125.0,386.0 126.0,385.1 127.0,384.1 128.0,383.5 129.0,384.5 130.0,385.5 131.0,384.7 132.0,383.5 133.0,382.9 134.0,382.4 135.0,382.0 136.0,381.6 137.0,381.0 138.0,380.0 139.0,378.8 140.0,377.5 141.0,376.2 142.0,374.5 143.0,371.9 144.0,369.0 145.0,366.5 146.0,365.1 147.0,364.0 148.0,362.3 149.0,360.0 150.0,356.9 151.0,353.3 152.0,349.1 153.0,344.6 154.0,339.9 155.0,335.3 156.0,331.6 157.0,329.9 158.0,328.8 159.0,327.9 160.0,327.2 161.0,326.4 162.0,325.5 163.0,324.6 164.0,323.7 165.0,322.9 166.0,322.1 167.0,321.6 168.0,321.6 169.0,322.4 170.0,323.7 171.0,325.5 172.0,327.8 173.0,330.2 174.0,332.7 175.0,336.0 176.0,340.7 177.0,346.0 178.0,351.1 179.0,356.2 180.0,361.3 181.0,366.3 182.0,371.5 183.0,376.4 184.0,380.5 185.0,384.0 186.0,387.2 187.0,390.2 188.0,393.0 189.0,395.7 190.0,398.3 191.0,400.5 192.0,402.3 193.0,403.9 194.0,405.3 195.0,406.5 196.0,407.5 197.0,408.3 198.0,409.1 199.0,409.7 200.0,410.4 201.0,411.1 202.0,411.7 203.0,412.4 204.0,412.9 205.0,413.4 206.0,413.8 207.0,414.1 208.0,414.3 209.0,414.5 210.0,414.8 211.0,415.1 212.0,415.4 213.0,415.7 214.0,416.1 215.0,416.6 216.0,417.2 217.0,417.5 218.0,417.1 219.0,416.3 220.0,415.9 221.0,416.1 222.0,416.6 223.0,417.0 224.0,417.3 225.0,417.2 226.0,416.9 227.0,416.6 228.0,416.4 229.0,416.4 230.0,416.4 231.0,416.4 232.0,416.4 233.0,416.5 234.0,416.6 235.0,416.6 236.0,416.7 237.0,416.7 238.0,416.8 239.0,416.9 240.0,416.9 241.0,416.9 242.0,416.8 243.0,416.6 244.0,416.5 245.0,416.4 246.0,416.4 247.0,416.4 248.0,416.7 249.0,417.1 250.0,417.5" fill="none" stroke="#d42020" stroke-width="1.2" stroke-linejoin="round" stroke-linecap="round" stroke-dasharray="1.6 1.6"/>
<text x="99.6" y="369" font-family='"Liberation Sans", sans-serif' font-weight="normal" font-size="10" fill="#222" text-anchor="start" textLength="20.5" lengthAdjust="spacingAndGlyphs" stroke="#222" stroke-width="0.45" >O 1s</text>
<text x="123.6" y="371.3" font-family='"Liberation Sans", sans-serif' font-weight="normal" font-size="6.5" fill="#222" text-anchor="start" stroke="#222" stroke-width="0.2" >B</text>
<text x="151" y="308.4" font-family='"Liberation Sans", sans-serif' font-weight="normal" font-size="10" fill="#222" text-anchor="start" textLength="22" lengthAdjust="spacingAndGlyphs" stroke="#222" stroke-width="0.45" >O 1s</text>
<text x="175" y="310.7" font-family='"Liberation Sans", sans-serif' font-weight="normal" font-size="6.5" fill="#222" text-anchor="start" stroke="#222" stroke-width="0.2" >A</text>
<line x1="311.0" y1="278.2" x2="311.0" y2="444.1" stroke="#555" stroke-width="1.7"/>
<line x1="311.0" y1="444.1" x2="311.0" y2="447.6" stroke="#2e2e2e" stroke-width="1.4"/>
<line x1="310.3" y1="444.1" x2="536.6" y2="444.1" stroke="#2e2e2e" stroke-width="1.6"/>
<line x1="361.50" y1="444.1" x2="361.50" y2="447.6" stroke="#2e2e2e" stroke-width="1.2"/>
<line x1="411.50" y1="444.1" x2="411.50" y2="447.6" stroke="#2e2e2e" stroke-width="1.2"/>
<line x1="461.50" y1="444.1" x2="461.50" y2="447.6" stroke="#2e2e2e" stroke-width="1.2"/>
<line x1="511.50" y1="444.1" x2="511.50" y2="447.6" stroke="#2e2e2e" stroke-width="1.2"/>
<line x1="336.50" y1="444.1" x2="336.50" y2="446.1" stroke="#2e2e2e" stroke-width="1.2"/>
<line x1="386.50" y1="444.1" x2="386.50" y2="446.1" stroke="#2e2e2e" stroke-width="1.2"/>
<line x1="436.50" y1="444.1" x2="436.50" y2="446.1" stroke="#2e2e2e" stroke-width="1.2"/>
<line x1="486.50" y1="444.1" x2="486.50" y2="446.1" stroke="#2e2e2e" stroke-width="1.2"/>
<line x1="536.50" y1="444.1" x2="536.50" y2="446.1" stroke="#2e2e2e" stroke-width="1.2"/>
<text x="311.50" y="455.9" font-family='"Liberation Sans", sans-serif' font-weight="bold" font-size="8.2" text-anchor="middle" fill="#1a1a1a" stroke="#1a1a1a" stroke-width="0.3">536</text>
<text x="361.50" y="455.9" font-family='"Liberation Sans", sans-serif' font-weight="bold" font-size="8.2" text-anchor="middle" fill="#1a1a1a" stroke="#1a1a1a" stroke-width="0.3">534</text>
<text x="411.50" y="455.9" font-family='"Liberation Sans", sans-serif' font-weight="bold" font-size="8.2" text-anchor="middle" fill="#1a1a1a" stroke="#1a1a1a" stroke-width="0.3">532</text>
<text x="461.50" y="455.9" font-family='"Liberation Sans", sans-serif' font-weight="bold" font-size="8.2" text-anchor="middle" fill="#1a1a1a" stroke="#1a1a1a" stroke-width="0.3">530</text>
<text x="511.50" y="455.9" font-family='"Liberation Sans", sans-serif' font-weight="bold" font-size="8.2" text-anchor="middle" fill="#1a1a1a" stroke="#1a1a1a" stroke-width="0.3">528</text>
<text x="285.5" y="271.6" font-family='"Liberation Sans", sans-serif' font-weight="bold" font-size="11" fill="#1a1a1a" text-anchor="start" textLength="15.5" lengthAdjust="spacingAndGlyphs" >(d)</text>
<text transform="translate(295.8,358.2) rotate(-90)" x="0" y="0" font-family='"Liberation Serif", serif' font-size="12" fill="#1a1a1a" stroke="#1a1a1a" stroke-width="0.3" text-anchor="middle">Intensity (a.u.)</text>
<text x="372" y="477.6" font-family='"Liberation Serif", serif' font-size="12" fill="#1a1a1a" stroke="#1a1a1a" stroke-width="0.2" textLength="98.3" lengthAdjust="spacingAndGlyphs">Binding energy (eV)</text>
<text x="316.4" y="270.6" font-family='"Liberation Sans", sans-serif' font-weight="bold" font-size="9" fill="#222">O 1s for T<tspan font-size="6.5" dy="2.2">5</tspan><tspan dy="-2.2"> sub-surface</tspan></text>
<polyline points="312.0,423.0 313.0,420.3 316.0,421.4 318.0,423.0 321.0,419.7 325.0,420.3 328.0,421.4 330.0,419.7 334.0,421.4 337.0,420.8 339.0,421.4 342.0,418.6 346.0,419.0 349.0,418.1 352.0,418.6 355.0,418.1 358.0,416.8 361.0,414.6 364.0,415.9 368.0,414.3 372.0,410.0 378.0,404.0 382.0,401.5 386.0,398.0 390.0,393.0 393.0,388.0 396.0,376.0 399.0,366.0 402.0,354.0 406.0,334.0 410.0,322.0 413.0,309.0 414.0,305.0 416.0,301.0 421.0,298.0 424.0,305.0 426.0,310.0 428.0,317.0 432.0,336.0 434.0,346.0 436.0,356.0 438.0,370.0 440.0,379.0 442.0,389.0 444.0,397.0 448.0,407.0 452.0,414.0 456.0,420.0 460.0,423.0 466.0,423.6 470.0,424.0 472.0,427.0 474.0,422.4 478.0,424.5 480.0,425.6 483.0,424.2 486.0,424.6 489.0,425.3 492.0,425.6 496.0,428.6 499.0,426.0 502.0,425.0 505.0,424.5 508.0,426.0 512.0,425.5 516.0,426.0 518.0,429.0 522.0,427.0 526.0,426.0 527.0,425.8" fill="none" stroke="#111" stroke-width="1.6" stroke-linejoin="round"/>
<text x="439.6" y="317.4" font-family='"Liberation Sans", sans-serif' font-weight="normal" font-size="10" fill="#222" text-anchor="start" textLength="21" lengthAdjust="spacingAndGlyphs" stroke="#222" stroke-width="0.45" >O 1s</text>
<text x="463" y="319.7" font-family='"Liberation Sans", sans-serif' font-weight="normal" font-size="6.5" fill="#222" text-anchor="start" stroke="#222" stroke-width="0.2" >A</text>
</svg>
</body></html>
